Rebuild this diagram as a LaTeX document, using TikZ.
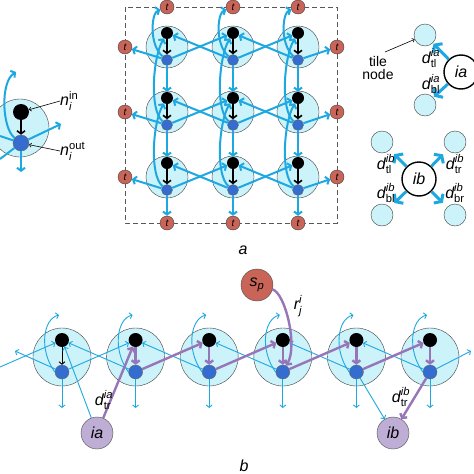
\documentclass[tikz,border=0pt]{standalone}
\usepackage{amsmath}
\usepackage{fontspec}
\setmainfont{Liberation Sans}
\usetikzlibrary{arrows.meta}

\definecolor{tilecyan}{RGB}{204,242,250}
\definecolor{outblue}{RGB}{52,108,208}
\definecolor{linkblue}{RGB}{30,168,226}
\definecolor{tred}{RGB}{200,100,88}
\definecolor{routepurple}{RGB}{150,118,184}
\definecolor{lavender}{RGB}{190,174,214}

\tikzset{
  tile/.style={circle, draw=black!75, fill=tilecyan, inner sep=0pt},
  innode/.style={circle, fill=black, inner sep=0pt},
  outnode/.style={circle, draw=black!60, fill=outblue, inner sep=0pt},
  tnode/.style={circle, draw=black!75, fill=tred, minimum size=14pt, inner sep=0pt,
    font=\fontsize{10}{10}\selectfont\itshape},
  link/.style={draw=linkblue, line width=2pt, -{Straight Barb[length=3pt,width=8pt]}},
  thinlink/.style={draw=linkblue, line width=0.9pt, -{Straight Barb[length=2.5pt,width=6pt]}},
  route/.style={draw=routepurple, line width=2.4pt, -{Straight Barb[length=3pt,width=8pt]}},
  inlink/.style={draw=black, line width=1.6pt, -{Straight Barb[length=3pt,width=8pt]}},
  dlink/.style={draw=linkblue, line width=3pt, -{Straight Barb[length=4.5pt,width=13pt]}},
  lbl/.style={font=\fontsize{16}{16}\selectfont, inner sep=0pt},
}

\begin{document}
\begin{tikzpicture}[x=1pt, y=-1pt]
  \fill[white] (0,0) rectangle (474,474);
  \useasboundingbox (0,0) rectangle (474,474);

  % 左侧单个节点
  \node[tile, minimum size=58pt] (stile) at (20,128) {};
  \node[innode, minimum size=16pt] (sin) at (21,112) {};
  \node[outnode, minimum size=16pt] (sout) at (21,143) {};
  \coordinate (stop) at (16,72);
  \coordinate (sright) at (61,124);
  \coordinate (sdown) at (21,172);
  \coordinate (sleft) at (0,136);
  \coordinate (sfrom) at (0,159);
  \draw[link] (sout) .. controls (2,128) and (0,82) .. (stop);
  \draw[link] (sout) -- (sright);
  \draw[link] (sout) -- (sdown);
  \draw[linkblue, line width=2pt] (sout) -- (sleft);
  \draw[linkblue, line width=2pt] (sfrom) -- (sout);
  \draw[inlink] (sin) -- (sout);
  \node[lbl, anchor=west] (nin) at (60,101) {$\textit{n}_{\textit{i}}^{\text{in}}$};
  \node[lbl, anchor=west] (nout) at (60,151) {$\textit{n}_{\textit{i}}^{\text{out}}$};
  \draw[black, line width=0.6pt, -{Straight Barb[length=2pt,width=4pt]}] (nin.west) -- (sin);
  \draw[black, line width=0.6pt, -{Straight Barb[length=2pt,width=4pt]}] (nout.west) -- (sout);

  % 图 a：3x3 网格
  \draw[black!65, line width=0.9pt, dash pattern=on 5pt off 3pt] (125,7) rectangle (337,223);
  \foreach \i/\cx in {1/167,2/233,3/298} {
    \foreach \j/\cy in {1/47,2/112,3/177} {
      \node[tile, minimum size=42pt] (tile-\i-\j) at (\cx,\cy) {};
      \node[innode, minimum size=12pt] (in-\i-\j) at (\cx,\cy-14) {};
      \node[outnode, minimum size=11pt] (out-\i-\j) at (\cx,\cy+13) {};
    }
    \node[tnode] (t-top-\i) at (\cx,7) {t};
    \node[tnode] (t-bot-\i) at (\cx,223) {t};
  }
  \foreach \j/\cy in {1/47,2/112,3/177} {
    \node[tnode] (t-left-\j) at (125,\cy) {t};
    \node[tnode] (t-right-\j) at (337,\cy) {t};
  }
  \foreach \i in {1,2,3} {
    \foreach \j/\k in {1/2,2/3} {
      \draw[link] (out-\i-\j) -- (in-\i-\k);
      \draw[link] (out-\i-\k) .. controls +(-18,-15) and +(-14,24) .. (in-\i-\j);
    }
    \draw[link] (out-\i-3) -- (t-bot-\i);
    \draw[link] (out-\i-1) .. controls +(-18,-15) and +(-16,6) .. (t-top-\i);
    \foreach \j in {1,2,3} {
      \draw[inlink] (in-\i-\j) -- (out-\i-\j);
    }
  }
  \foreach \j in {1,2,3} {
    \foreach \i/\k in {1/2,2/3} {
      \draw[link] (out-\i-\j) -- (in-\k-\j);
      \draw[link] (out-\k-\j) -- (in-\i-\j);
    }
    \draw[link] (out-1-\j) -- (t-left-\j);
    \draw[link] (out-3-\j) -- (t-right-\j);
  }
  \node[font=\fontsize{16}{16}\selectfont\itshape] (labela) at (243,250) {a};

  % 图例：ia
  \node[tile, minimum size=22pt] (lt1) at (425,35) {};
  \node[tile, minimum size=22pt] (lt2) at (425,105) {};
  \node[circle, draw=black, line width=1.4pt, fill=white, minimum size=34pt,
    font=\fontsize{16}{16}\selectfont\itshape] (lia) at (461,72) {ia};
  \draw[dlink, shorten >=1pt] (lia) -- (lt1);
  \draw[dlink, shorten >=1pt] (lia) -- (lt2);
  \node[font=\fontsize{14}{14}\selectfont, align=center] (tilelbl) at (378,68) {tile\\[-1pt]node};
  \draw[black, line width=0.6pt, -{Straight Barb[length=2pt,width=4pt]}] (385,52) -- (lt1);
  \node[lbl] (dtlia) at (431,58) {$\textit{d}_{\text{tl}}^{\textit{ia}}$};
  \node[lbl] (dblia) at (431,84) {$\textit{d}_{\text{bl}}^{\textit{ia}}$};

  % 图例：ib
  \node[tile, minimum size=22pt] (lb1) at (382,142) {};
  \node[tile, minimum size=22pt] (lb2) at (455,142) {};
  \node[tile, minimum size=22pt] (lb3) at (382,215) {};
  \node[tile, minimum size=22pt] (lb4) at (455,215) {};
  \node[circle, draw=black, line width=1.4pt, fill=white, minimum size=34pt,
    font=\fontsize{16}{16}\selectfont\itshape] (lib) at (419,179) {ib};
  \foreach \t in {lb1,lb2,lb3,lb4} {
    \draw[dlink, shorten >=6pt] (lib) -- (\t);
  }
  \node[lbl] (dtlib) at (386,164) {$\textit{d}_{\text{tl}}^{\textit{ib}}$};
  \node[lbl] (dtrib) at (455,164) {$\textit{d}_{\text{tr}}^{\textit{ib}}$};
  \node[lbl] (dblib) at (386,193) {$\textit{d}_{\text{bl}}^{\textit{ib}}$};
  \node[lbl] (dbrib) at (455,193) {$\textit{d}_{\text{br}}^{\textit{ib}}$};

  % 图 b：一行节点
  \foreach \k [evaluate=\k as \bx using 62+73.6*(\k-1)] in {1,...,6} {
    \node[tile, minimum size=58pt] (btile-\k) at (\bx,357) {};
    \node[innode, minimum size=14pt] (bin-\k) at (\bx,340) {};
    \node[outnode, minimum size=14pt] (bout-\k) at (\bx,372) {};
    \coordinate (bdown-\k) at (\bx,408);
    \coordinate (bcurl-\k) at (\bx-3,315);
    \draw[thinlink] (bout-\k) -- (bdown-\k);
    \draw[thinlink] (bout-\k.west) .. controls +(-16,-22) and +(-16,4) .. (bcurl-\k);
  }
  \foreach \k/\m in {1/2,2/3,3/4,4/5,5/6} {
    \draw[thinlink] (bout-\m) -- (bin-\k);
  }
  \coordinate (bleft) at (15,351);
  \coordinate (bedge) at (0,367);
  \coordinate (bright) at (471,351);
  \draw[thinlink] (bout-1) -- (bleft);
  \draw[thinlink] (bedge) -- (bin-1);
  \draw[thinlink] (bout-6) -- (bright);
  \draw[thinlink] (bout-1) -- (bin-2);
  \draw[draw=black, line width=0.9pt, -{Straight Barb[length=2.5pt,width=6pt]}] (bin-1) -- (bout-1);

  \node[circle, draw=black!70, fill=lavender, minimum size=32pt,
    font=\fontsize{16}{16}\selectfont\itshape] (bia) at (97,433) {ia};
  \node[circle, draw=black!70, fill=lavender, minimum size=32pt,
    font=\fontsize{16}{16}\selectfont\itshape] (bib) at (393,433) {ib};
  \node[circle, draw=black!70, fill=tred, minimum size=32pt,
    font=\fontsize{16}{16}\selectfont] (sp) at (257,285) {$\textit{s}_{\textit{p}}$};
  \draw[thinlink] (bia) -- (bin-1);
  \draw[thinlink] (bout-5) -- (bib);

  % 路径
  \draw[route] (bia) -- (bin-2);
  \foreach \k in {2,...,6} {
    \draw[route] (bin-\k) -- (bout-\k);
  }
  \foreach \k/\m in {2/3,3/4,4/5,5/6} {
    \draw[route] (bout-\k) -- (bin-\m);
  }
  \draw[route] (bout-6) -- (bib);
  \draw[route] (sp) .. controls (285,293) and (298,345) .. (bout-4);
  \node[lbl] (dtria) at (104,400) {$\textit{d}_{\text{tr}}^{\textit{ia}}$};
  \node[lbl] (dtrib2) at (401,397) {$\textit{d}_{\text{tr}}^{\textit{ib}}$};
  \node[lbl] (rji) at (298,306) {$\textit{r}_{\textit{j}}^{\textit{i}}$};
  \node[font=\fontsize{16}{16}\selectfont\itshape] (labelb) at (244,466) {b};
\end{tikzpicture}
\end{document}
